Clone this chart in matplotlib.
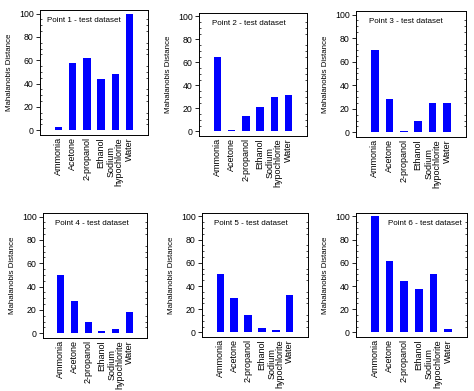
import matplotlib
matplotlib.use('Agg')
import matplotlib.pyplot as plt
from matplotlib.ticker import MultipleLocator

plt.rcParams['font.family'] = ['Liberation Sans', 'DejaVu Sans']

solvents = ['Ammonia', 'Acetone', '2-propanol', 'Ethanol', 'Sodium\nhypochlorite', 'Water']
titles = ['Point 1 - test dataset', 'Point 2 - test dataset', 'Point 3 - test dataset',
          'Point 4 - test dataset', 'Point 5 - test dataset', 'Point 6 - test dataset']
p1 = [3, 58, 62, 44, 48, 100]
p2 = [65, 1, 13, 21, 30, 32]
p3 = [70, 28, 1, 10, 25, 25]
p4 = [50, 28, 10, 2, 4, 18]
p5 = [50, 30, 15, 4, 2, 32]
p6 = [100, 62, 44, 37, 50, 3]
values = [p1, p2, p3, p4, p5, p6]

W, H = 474, 391
fig = plt.figure(figsize=(W/100, H/100), dpi=100)

# axes boxes in pixels: left, top, right, bottom
boxes = [(40, 10, 148, 135), (199, 13, 307, 136), (356, 11, 466, 137),
         (43, 213, 147, 338), (202, 213, 308, 337), (356, 213, 467, 337)]
title_x = [0.065, 0.12, 0.12, 0.115, 0.11, 0.955]

for i in range(6):
    l, t, r, b = boxes[i]
    ax = fig.add_axes([l/W, 1 - b/H, (r-l)/W, (b-t)/H])
    ax.bar(range(6), values[i], width=0.52, color='#0000ff')
    ax.set_xlim(-1.3, 6.3)
    ax.set_ylim(-4, 103)
    ax.set_xticks(range(6))
    ax.set_xticklabels(solvents, rotation=90, fontsize=6.5, linespacing=0.85)
    ax.set_yticks([0, 20, 40, 60, 80, 100])
    ax.yaxis.set_minor_locator(MultipleLocator(5))
    ax.tick_params(axis='y', labelsize=6.3, length=3, width=0.6, pad=1.5)
    ax.tick_params(axis='y', which='minor', right=True, direction='in', length=1.5, width=0.5)
    ax.tick_params(axis='x', length=0, pad=1.5)
    ax.set_ylabel('Mahalanobis Distance', fontsize=5.7, labelpad=4)
    for s in ax.spines.values():
        s.set_linewidth(0.7)
    ax.text(title_x[i], 0.915, titles[i], transform=ax.transAxes,
            ha='right' if i == 5 else 'left', va='center', fontsize=5.8)

fig.savefig('out.png', dpi=100)
